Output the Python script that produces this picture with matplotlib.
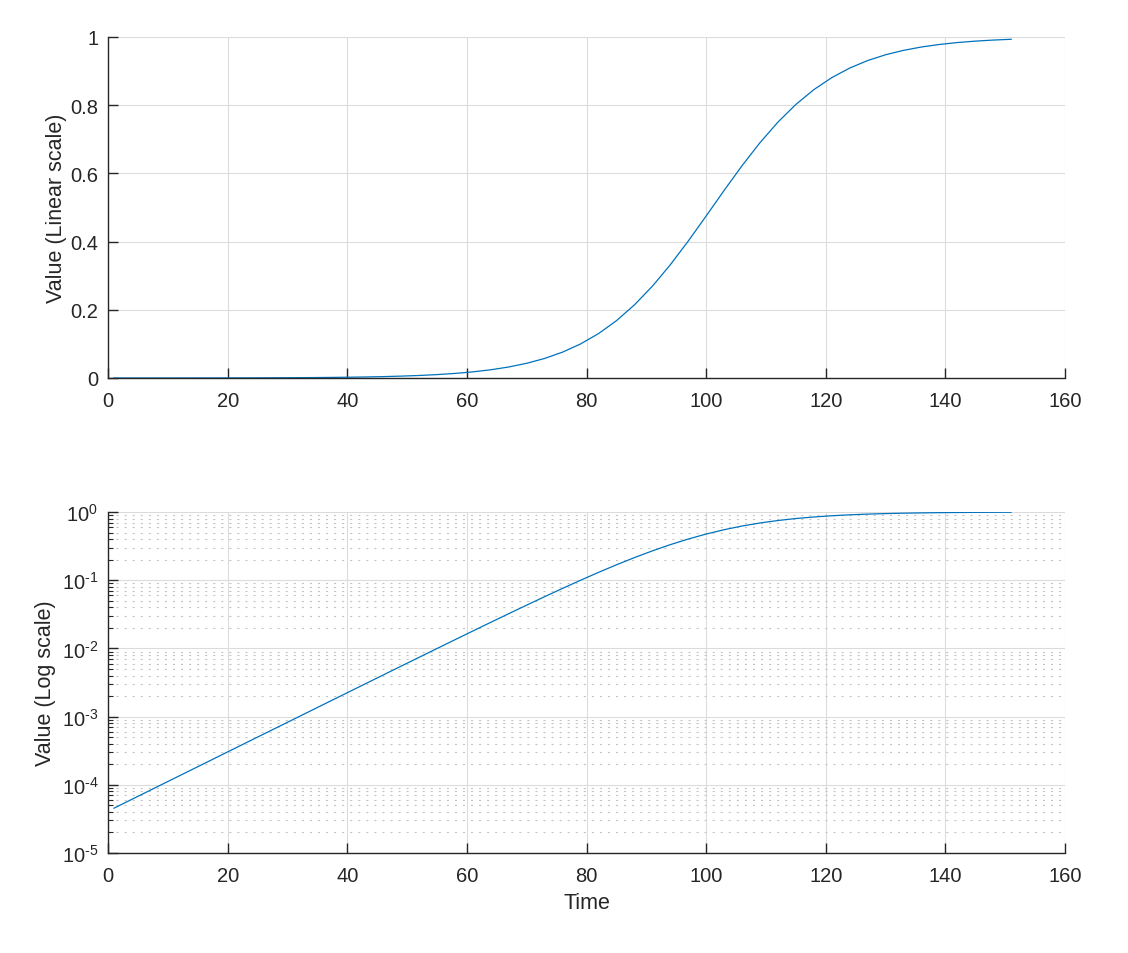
import numpy as np
import matplotlib
matplotlib.use("Agg")
import matplotlib.pyplot as plt
from matplotlib.ticker import LogLocator, NullFormatter, MultipleLocator, FuncFormatter

plt.rcParams['font.family'] = ['Liberation Sans', 'DejaVu Sans']
plt.rcParams['mathtext.fontset'] = 'custom'
plt.rcParams['mathtext.rm'] = 'Liberation Sans'
plt.rcParams['mathtext.it'] = 'Liberation Sans:italic'
plt.rcParams['lines.scale_dashes'] = False

# data (time vs value)
time = list(range(1, 152, 3))
value = [4.540e-5, 6.128e-5, 8.272e-5, 1.117e-4, 1.507e-4, 2.034e-4,
         2.746e-4, 3.707e-4, 5.004e-4, 6.754e-4, 9.11e-4, 1.229e-3,
         1.659e-3, 2.238e-3, 3.018e-3, 4.070e-3, 5.487e-3, 7.392e-3,
         9.952e-3, 1.3387e-2, 1.799e-2, 2.413e-2, 3.229e-2, 4.311e-2,
         5.732e-2, 7.586e-2, 0.0998, 0.1301, 0.1680, 0.2142, 0.2689,
         0.3318, 0.4013, 0.4750, 0.5498, 0.6225, 0.6900, 0.7503, 0.8022,
         0.8455, 0.8808, 0.9089, 0.9309, 0.9479, 0.9608, 0.9707, 0.9781,
         0.9837, 0.9879, 0.9910, 0.9933]

LINE = '#0072BD'
DARK = '#262626'
GRID = '#dcdcdc'

fig = plt.figure(figsize=(11.28, 9.54), dpi=100)
W, H = 1128, 954
ax1 = fig.add_axes([108 / W, 1 - 379 / H, (1065 - 108) / W, (379 - 38) / H])
ax2 = fig.add_axes([108 / W, 1 - 854 / H, (1065 - 108) / W, (854 - 513) / H])


def style(ax):
    for s in ['top', 'right']:
        ax.spines[s].set_visible(False)
    for s in ['left', 'bottom']:
        ax.spines[s].set_color(DARK)
        ax.spines[s].set_linewidth(1.0)
    ax.tick_params(which='major', direction='in', length=7.2, width=1.0,
                   colors=DARK, labelsize=14.5)
    ax.tick_params(axis='x', which='major', pad=9.5)
    ax.tick_params(axis='y', which='major', pad=7)
    ax.tick_params(which='minor', direction='in', length=3.6, width=0.8,
                   colors=DARK)
    ax.set_xlim(0, 160)
    ax.xaxis.set_major_locator(MultipleLocator(20))
    ax.set_axisbelow(True)


def log_label(v, pos):
    e = int(round(np.log10(v)))
    return r'$10^{\text{%d}}$' % e


# top: linear
ax1.plot(time, value, color=LINE, linewidth=0.9)
style(ax1)
ax1.set_ylim(0, 1)
ax1.set_yticks([0, 0.2, 0.4, 0.6, 0.8, 1])
ax1.set_yticklabels(['0', '0.2', '0.4', '0.6', '0.8', '1'])
ax1.grid(True, which='major', color=GRID, linewidth=0.8)
ax1.set_ylabel('Value (Linear scale)', fontsize=15.5, color=DARK)
ax1.yaxis.set_label_coords(-0.043, 0.5)

# bottom: log
ax2.plot(time, value, color=LINE, linewidth=0.9)
style(ax2)
ax2.set_yscale('log')
ax2.set_ylim(1e-5, 1)
ax2.yaxis.set_major_locator(LogLocator(base=10, numticks=10))
ax2.yaxis.set_major_formatter(FuncFormatter(log_label))
ax2.yaxis.set_minor_locator(LogLocator(base=10, subs=np.arange(2, 10), numticks=20))
ax2.yaxis.set_minor_formatter(NullFormatter())
ax2.grid(True, which='major', color=GRID, linewidth=0.8)
ax2.grid(True, which='minor', axis='y', color='#c4c4c4', linewidth=0.8,
         linestyle=(0, (1.5, 4.3)))
ax2.set_ylabel('Value (Log scale)', fontsize=15.5, color=DARK)
ax2.yaxis.set_label_coords(-0.0545, 0.5)
ax2.set_xlabel('Time', fontsize=15.5, color=DARK, labelpad=5)

fig.savefig('out.png', dpi=100)
